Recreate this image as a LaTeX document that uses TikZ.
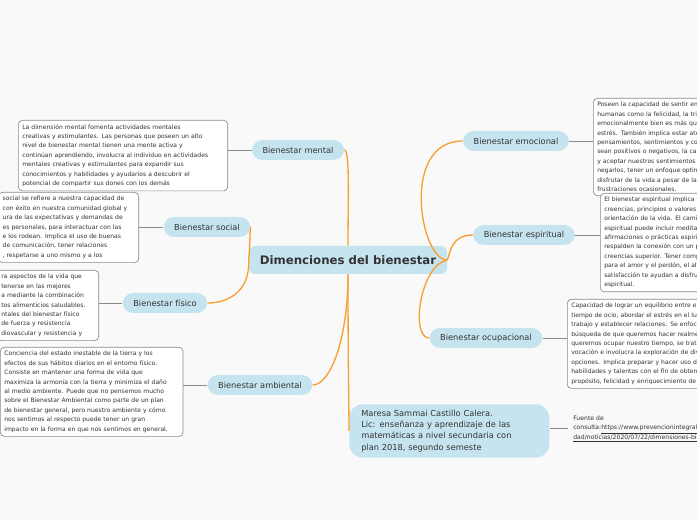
\documentclass[tikz,border=0pt]{standalone}
\usepackage{fontspec}
\setmainfont{DejaVu Sans}
\definecolor{bg}{HTML}{F9F9F9}
\definecolor{nodebl}{HTML}{C6E4F0}
\definecolor{orng}{HTML}{F7A031}
\definecolor{gline}{HTML}{8A8A8A}
\definecolor{txt}{HTML}{333333}
\begin{document}
\begin{tikzpicture}[x=0.75pt,y=-0.75pt,
  branch/.style={fill=nodebl,rounded corners=8pt,minimum height=15pt,inner xsep=8pt,font=\fontsize{6.2}{7}\selectfont,text=txt},
  tbox/.style={draw=gline,fill=white,rounded corners=3pt,line width=0.5pt,align=left,inner sep=3pt,font=\fontsize{4.55}{7.05}\selectfont,text=txt},
  oc/.style={orng,line width=1pt},
  gc/.style={gline,line width=0.6pt}]
\clip (0,0) rectangle (697,520);
\fill[bg] (0,0) rectangle (697,520);
% center
\node[fill=nodebl,rounded corners=4pt,minimum width=148.5pt,minimum height=21pt,font=\bfseries\fontsize{8.8}{10}\selectfont,text=txt] (c) at (348,260) {Dimenciones del bienestar};
% branches
\node[branch] (m) at (298,150) {Bienestar mental};
\node[branch] (s) at (207,227) {Bienestar social};
\node[branch] (f) at (165,303) {Bienestar físico};
\node[branch] (a) at (260,385) {Bienestar ambiental};
\node[branch] (e) at (516,141) {Bienestar emocional};
\node[branch] (p) at (524,235) {Bienestar espiritual};
\node[branch] (o) at (486,338) {Bienestar ocupacional};
\node[fill=nodebl,rounded corners=10pt,minimum width=150pt,minimum height=40pt,align=left,anchor=north west,inner xsep=9pt,text width=132pt,font=\fontsize{6.2}{8.6}\selectfont,text=txt] (r) at (349,404) {Maresa Sammai Castillo Calera.\\Lic: enseñanza y aprendizaje de las\\matemáticas a nivel secundaria con\\plan 2018, segundo semeste};
\node[anchor=north west,align=left,inner sep=0pt,font=\fontsize{4.6}{6.8}\selectfont,text=txt] (src) at (573,416) {Fuente de\\consulta:\underline{https://www.prevencionintegral.com/actuali}\\\underline{dad/noticias/2020/07/22/dimensiones-bienestar}};
% orange connectors
\draw[oc] (c.north) .. controls (348,200) and (350,150) .. (m.east);
\draw[oc] (c.west) .. controls (250,245) and (250,227) .. (s.east);
\draw[oc] (c.west) .. controls (250,290) and (230,303) .. (f.east);
\draw[oc] (c.south) .. controls (348,340) and (330,385) .. (a.east);
\draw[oc] (c.east) .. controls (420,260) and (400,141) .. (e.west);
\draw[oc] (c.east) .. controls (450,255) and (450,235) .. (p.west);
\draw[oc] (c.east) .. controls (420,265) and (410,338) .. (o.west);
\draw[oc] (c.south) .. controls (348,360) and (349,410) .. (r.west);
% text boxes
\node[tbox,anchor=north west,text width=151pt] (tm) at (18,120) {La dimensión mental fomenta actividades mentales\\creativas y estimulantes. Las personas que poseen un alto\\nivel de bienestar mental tienen una mente activa y\\continúan aprendiendo, involucra al individuo en actividades\\mentales creativas y estimulantes para expandir sus\\conocimientos y habilidades y ayudarios a descubrir el\\potencial de compartir sus dones con los demás};
\node[tbox,anchor=north east,text width=99pt,minimum height=50pt] (ts) at (139,192) {social se refiere a nuestra capacidad de\\con éxito en nuestra comunidad global y\\ura de las expectativas y demandas de\\es personales, para interactuar con las\\e los rodean. Implica el uso de buenas\\de comunicación, tener relaciones\\, respetarse a uno mismo y a los};
\node[tbox,anchor=north east,text width=70pt,minimum height=49pt] (tf) at (99,270) {ra aspectos de la vida que\\tenerse en las mejores\\a mediante la combinación\\tos alimenticios saludables.\\ntales del bienestar físico\\de fuerza y resistencia\\diovascular y resistencia y};
\node[tbox,anchor=north west,text width=131pt,minimum height=58pt] (ta) at (0,347) {Conciencia del estado inestable de la tierra y los\\efectos de sus hábitos diarios en el entorno físico.\\Consiste en mantener una forma de vida que\\maximiza la armonía con la tierra y minimiza el daño\\al medio ambiente. Puede que no pensemos mucho\\sobre el Bienestar Ambiental como parte de un plan\\de bienestar general, pero nuestro ambiente y cómo\\nos sentimos al respecto puede tener un gran\\impacto en la forma en que nos sentimos en general.};
\node[tbox,anchor=north west,text width=120pt,minimum height=64pt] (te) at (593,98) {Poseen la capacidad de sentir emociones\\humanas como la felicidad, la tristeza\\emocionalmente bien es más que no tener\\estrés. También implica estar atento a\\pensamientos, sentimientos y conductas\\sean positivos o negativos, la capacidad\\y aceptar nuestros sentimientos en lugar de\\negarlos, tener un enfoque optimista y\\disfrutar de la vida a pesar de las\\frustraciones ocasionales.};
\node[tbox,anchor=north west,text width=120pt,minimum height=63pt] (tp) at (600,193) {El bienestar espiritual implica tener\\creencias, principios o valores que dan\\orientación de la vida. El camino\\espiritual puede incluir meditación,\\afirmaciones o prácticas espirituales que\\respalden la conexión con un poder o\\creencias superior. Tener compasión\\para el amor y el perdón, el altruismo y la\\satisfacción te ayudan a disfrutar lo\\espiritual.};
\node[tbox,anchor=north west,text width=150pt,minimum height=57pt] (to) at (567,299) {Capacidad de lograr un equilibrio entre el\\tiempo de ocio, abordar el estrés en el lugar de\\trabajo y establecer relaciones. Se enfoca en la\\búsqueda de que queremos hacer realmente y cómo\\queremos ocupar nuestro tiempo, se trata de la\\vocación e involucra la exploración de diversas\\opciones. Implica preparar y hacer uso de las\\habilidades y talentos con el fin de obtener\\propósito, felicidad y enriquecimiento de vida.};
% gray connectors
\draw[gc] (m.west) -- (tm.east |- m.west);
\draw[gc] (s.west) -- (ts.east |- s.west);
\draw[gc] (f.west) -- (tf.east |- f.west);
\draw[gc] (a.west) -- (ta.east |- a.west);
\draw[gc] (e.east) -- (te.west |- e.east);
\draw[gc] (p.east) -- (tp.west |- p.east);
\draw[gc] (o.east) -- (to.west |- o.east);
\draw[gc] (r.east |- 0,428) -- (568,428);
\end{tikzpicture}
\end{document}
